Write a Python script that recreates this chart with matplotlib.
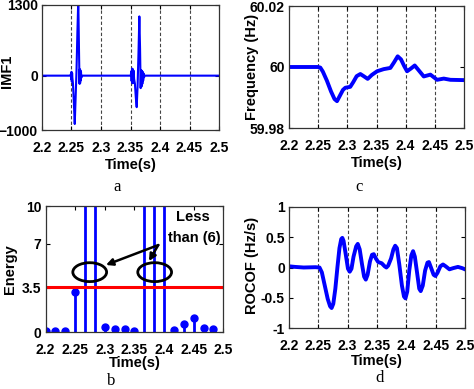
import numpy as np
import matplotlib
matplotlib.use('Agg')
import matplotlib.pyplot as plt
from matplotlib.patches import Ellipse

plt.rcParams['font.family'] = ['Liberation Sans', 'DejaVu Sans']
plt.rcParams['font.weight'] = 'bold'
plt.rcParams['axes.labelweight'] = 'bold'
plt.rcParams['xtick.direction'] = 'in'
plt.rcParams['ytick.direction'] = 'in'
plt.rcParams['xtick.top'] = True
plt.rcParams['ytick.right'] = True

# ---- data ----
time_ticks = [2.2, 2.25, 2.3, 2.35, 2.4, 2.45, 2.5]
time_tick_labels = ['2.2', '2.25', '2.3', '2.35', '2.4', '2.45', '2.5']
grid_times = [2.25, 2.3, 2.35, 2.4, 2.45]

# (a) IMF1
imf_t = [2.2, 2.2485, 2.249, 2.2495, 2.25, 2.2505, 2.251, 2.2515, 2.2525,
         2.2540, 2.2555, 2.2570, 2.2585, 2.2600, 2.2615, 2.2628, 2.2636,
         2.2641, 2.2646, 2.2651, 2.2656, 2.2661, 2.2666, 2.2672, 2.3505,
         2.3512, 2.3519, 2.3526, 2.3533, 2.354, 2.3547, 2.3554, 2.3561,
         2.3575, 2.3590, 2.3605, 2.3620, 2.3635, 2.3650, 2.3662, 2.3672,
         2.3680, 2.3687, 2.3694, 2.3701, 2.3708, 2.3715, 2.3722, 2.3730,
         2.3740, 2.5]
imf_v = [0, 0, 30, -60, 70, -110, 50, -40, -150,
         -500, -890, -400, 100, 800, 1400, 400, -150,
         120, -140, 100, -90, 70, -40, 0, 0,
         80, -100, 130, -140, 120, -130, 90, -60,
         -150, -400, -580, -200, 400, 1090, 500, -230,
         100, -200, 90, -150, 70, -90, 40, -30,
         0, 0]

# (c) frequency
freq_t = [2.2, 2.25, 2.2537, 2.258, 2.265, 2.272, 2.278, 2.2823, 2.287,
          2.2925, 2.2966, 2.305, 2.31, 2.316, 2.3223, 2.328, 2.3349, 2.342,
          2.351, 2.3623, 2.3738, 2.38, 2.3863, 2.392, 2.3975, 2.4024, 2.409,
          2.4155, 2.422, 2.431, 2.4424, 2.4539, 2.4653, 2.4767, 2.5]
freq_v = [60.0, 60.0, 59.9998, 59.9985, 59.9955, 59.992, 59.9895, 59.9888, 59.9905,
          59.9925, 59.9932, 59.9935, 59.995, 59.997, 59.9977, 59.997, 59.9961, 59.9974,
          59.9986, 59.9993, 59.9997, 60.0015, 60.0035, 60.0025, 60.0003, 59.9986, 59.9995,
          60.0005, 59.999, 59.9969, 59.9975, 59.9958, 59.9962, 59.9958, 59.9957]

# (b) energy stems
energy_t = [2.2 + i / 60 for i in range(18)]
energy_v = [0.05, 0.05, 0.05, 3.2, 40, 40, 0.4, 0.2, 0.2,
            0.1, 40, 40, 40, 0.15, 0.65, 1.1, 0.35, 0.2]
threshold = 3.6

# (d) ROCOF
rocof_t = [2.2, 2.21, 2.225, 2.245, 2.252, 2.256, 2.261, 2.266, 2.27, 2.2726,
           2.2755, 2.279, 2.2825, 2.286, 2.289, 2.2909, 2.293, 2.297, 2.3005,
           2.3035, 2.3065, 2.31, 2.3145, 2.3172, 2.3205, 2.3245, 2.328, 2.3309,
           2.334, 2.338, 2.3415, 2.3445, 2.348, 2.352, 2.358, 2.363, 2.366,
           2.369, 2.374, 2.378, 2.381, 2.384, 2.388, 2.3925, 2.396, 2.3985,
           2.4015, 2.405, 2.4085, 2.4115, 2.4145, 2.4185, 2.422, 2.4245, 2.428,
           2.432, 2.436, 2.4385, 2.442, 2.4465, 2.4495, 2.453, 2.458, 2.4625,
           2.467, 2.4735, 2.48, 2.488, 2.495, 2.5]
rocof_v = [0.02, 0.01, 0.0, 0.005, 0.0, -0.08, -0.3, -0.52, -0.64, -0.67,
           -0.6, -0.35, 0.0, 0.32, 0.47, 0.49, 0.44, 0.2, -0.02,
           -0.07, -0.02, 0.18, 0.35, 0.39, 0.3, 0.05, -0.15, -0.2,
           -0.12, 0.1, 0.21, 0.22, 0.15, 0.09, 0.07, 0.02, 0.0,
           0.03, 0.15, 0.3, 0.36, 0.32, 0.05, -0.3, -0.48, -0.51,
           -0.4, -0.05, 0.2, 0.27, 0.18, -0.1, -0.35, -0.39, -0.3,
           -0.05, 0.08, 0.09, 0.0, -0.12, -0.14, -0.09, 0.02, 0.05,
           0.02, -0.03, -0.01, 0.01, -0.01, -0.03]

blue = '#0000ff'
W, H = 474, 389


def px_axes(fig, left, top, right, bottom):
    return fig.add_axes([left / W, 1 - bottom / H, (right - left) / W, (bottom - top) / H])


def style(ax, ylabel, ylabel_x, ylabel_y=0.5, grid=True, xlabelpad=2):
    ax.set_xlim(2.2, 2.5)
    ax.set_xticks(time_ticks)
    ax.set_xticklabels(time_tick_labels)
    ax.tick_params(labelsize=10, length=3, width=0.8)
    ax.tick_params(axis='x', pad=8)
    ax.tick_params(axis='y', pad=3)
    for s in ax.spines.values():
        s.set_linewidth(0.9)
        s.set_color('#333333')
    if grid:
        for g in grid_times:
            ax.axvline(g, color='#444444', lw=0.8, ls=(0, (3, 2)), zorder=0)
    ax.set_xlabel('Time(s)', fontsize=10.5, labelpad=xlabelpad)
    ax.set_ylabel(ylabel, fontsize=10.5)
    ax.yaxis.set_label_coords(ylabel_x, ylabel_y)


fig = plt.figure(figsize=(4.74, 3.89), dpi=100)

# a
ax = px_axes(fig, 42, 5, 219, 130)
ax.plot(imf_t, imf_v, color=blue, lw=1.5)
ax.set_ylim(-1000, 1300)
ax.set_yticks([-1000, 0, 1300])
style(ax, 'IMF1', -0.158, 0.47)

# c
ax = px_axes(fig, 289, 6, 464, 128)
ax.plot(freq_t, freq_v, color=blue, lw=2.8, solid_joinstyle='round')
ax.set_ylim(59.98, 60.02)
ax.set_yticks([59.98, 60, 60.02])
ax.set_yticklabels(['59.98', '60', '60.02'])
style(ax, 'Frequency (Hz)', -0.171)

# b
ax = px_axes(fig, 45.5, 206, 223.3, 332)
markers, stemlines, base = ax.stem(energy_t, energy_v, basefmt=' ')
plt.setp(stemlines, color=blue, linewidth=2)
plt.setp(markers, color=blue, markersize=5)
ax.axhline(threshold, color='red', lw=2.2)
ax.set_ylim(0, 10)
ax.set_yticks([0, 3.5, 7, 10])
ax.set_yticklabels(['0', '3.5', '7', '10'])
style(ax, 'Energy', -0.16, grid=False, xlabelpad=-1)
for cx in [2.2746, 2.3842]:
    ax.add_patch(Ellipse((cx, 4.75), 0.057, 1.5, fill=False, ec='black', lw=2, zorder=5))
ax.text(2.449, 9.15, 'Less', ha='center', va='center', fontsize=10.5, fontweight='bold')
ax.text(2.451, 7.45, 'than (6)', ha='center', va='center', fontsize=10.5, fontweight='bold')
for end in [(2.302, 5.32), (2.3746, 5.63)]:
    ax.annotate('', xy=end, xytext=(2.3903, 6.9),
                arrowprops=dict(arrowstyle='-|>', color='black', lw=1.8, mutation_scale=10,
                                shrinkA=0, shrinkB=0))

# d
ax = px_axes(fig, 289, 207, 465, 328)
ax.plot(rocof_t, rocof_v, color=blue, lw=2.8, solid_joinstyle='round')
ax.set_ylim(-1, 1)
ax.set_yticks([-1, -0.5, 0, 0.5, 1])
ax.set_yticklabels(['-1', '-0.5', '0', '0.5', '1'])
style(ax, 'ROCOF (Hz/s)', -0.17, 0.52, xlabelpad=1)

# panel letters
for letter, x, y in [('a', 117, 187), ('c', 359, 187), ('b', 111, 381), ('d', 380, 378)]:
    fig.text(x / W, 1 - y / H, letter, ha='center', va='center', fontsize=12,
             fontfamily='Liberation Serif', fontweight='normal')

fig.savefig('out.png', dpi=100)
